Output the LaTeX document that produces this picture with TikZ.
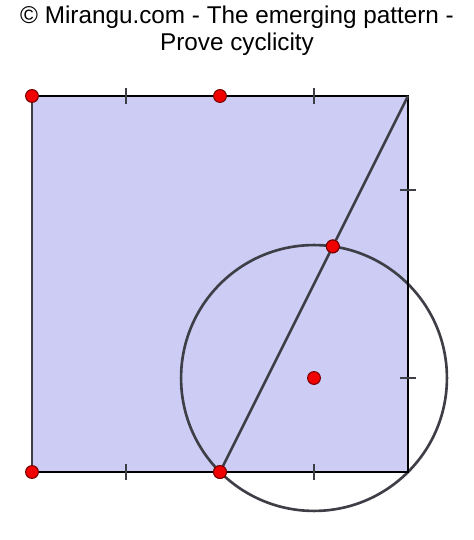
\documentclass[tikz,border=0pt]{standalone}
\usepackage{fontspec}
\setmainfont{Liberation Sans}
\usetikzlibrary{positioning}
\definecolor{squarefill}{RGB}{204,204,245}
\definecolor{edgegray}{RGB}{62,62,70}
\definecolor{dotred}{RGB}{240,0,0}
\begin{document}
\begin{tikzpicture}[x = 2cm, y = 2cm,
    point/.style = {circle, draw = black!55!red, fill = dotred, line width = 0.6pt,
      inner sep = 0pt, minimum size = 7.8pt},
    tickmark/.style = {draw = edgegray, line width = 1.6pt},
    thinline/.style = {draw = edgegray, line width = 1.6pt}]
  \useasboundingbox (-0.3404, -0.7234) rectangle (4.7021, 5.0213);
  \node [align = center, font = \fontsize{14.7}{16.6}\selectfont] (title) at (2.181, 4.695)
    {© Mirangu.com - The emerging pattern -\\ Prove cyclicity};

  \coordinate (bl) at (0,0);
  \coordinate (br) at (4,0);
  \coordinate (tr) at (4,4);
  \coordinate (tl) at (0,4);
  \coordinate (centre) at (3,1);

  \fill [squarefill] (bl) rectangle (tr);
  \draw [thinline] (centre) circle [radius = 2.8284cm];
  \draw [draw = edgegray, line width = 1.8pt] (bl) -- (tl);
  \draw [draw = black, line width = 1.8pt] (tl) -- (tr) -- (br) -- (bl);

  \foreach \k in {1, 3} {
    \draw [tickmark] (\k, -0.09) -- (\k, 0.09);
    \draw [tickmark] (\k, 3.91) -- (\k, 4.09);
    \draw [tickmark] (3.91, \k) -- (4.09, \k);
  }

  \node [point] (bottommid) at (2,0) {};
  \node [point] (topmid) at (2,4) {};
  \node [point] (cornerbl) at (bl) {};
  \node [point] (cornertl) at (tl) {};
  \node [point] (meet) at (3.2,2.4) {};
  \node [point] (mid) at (centre) {};
  \draw [thinline] (bottommid) -- (meet) -- (tr);
  \node [point] at (bottommid) {};
  \node [point] at (meet) {};
\end{tikzpicture}
\end{document}
